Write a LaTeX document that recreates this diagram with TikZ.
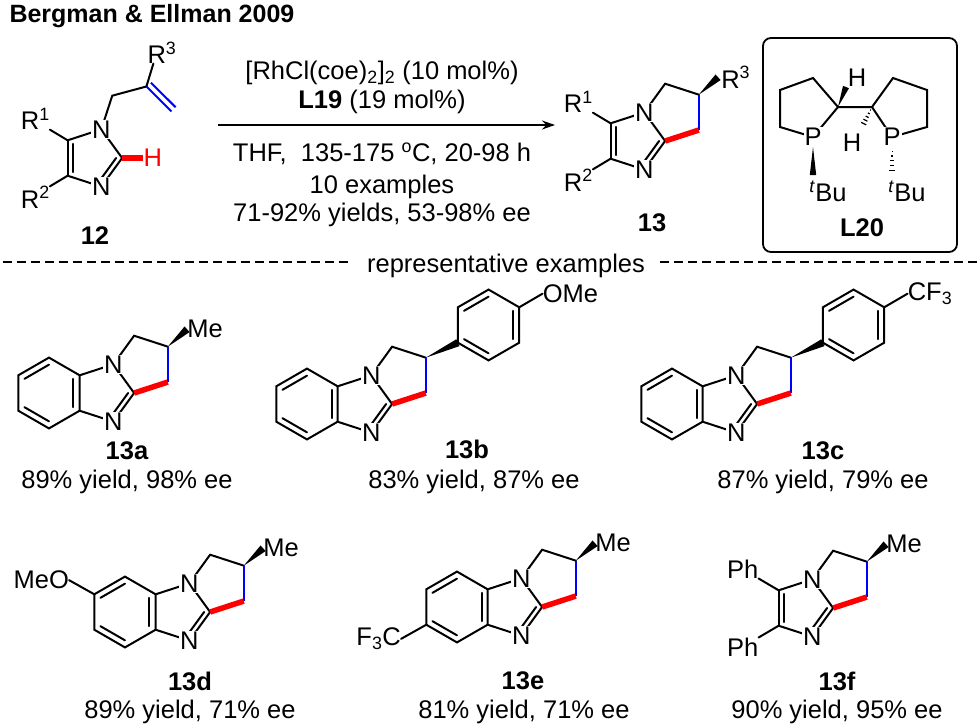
\documentclass[tikz,border=0pt]{standalone}
\usepackage{fontspec}
\setmainfont{Liberation Sans}
\usetikzlibrary{calc,arrows.meta}
\definecolor{rd}{RGB}{255,0,0}
\definecolor{bl}{RGB}{0,0,255}
\newcommand\chemf{\fontsize{25.5}{30}\selectfont}
\tikzset{
 bond/.style={line width=2pt,line cap=round},
 rbond/.style={line width=5.5pt,rd},
 bbond/.style={line width=2pt,bl},
 atom/.style={fill=white,inner sep=1pt,font=\chemf},
 lab/.style={inner sep=0pt,font=\chemf},
 cpd/.style={font=\chemf\bfseries},
 core/.style={yscale=-1,scale=1.18}
}
\newcommand\corecoords{%
 \coordinate (c) at (0,0);
 \coordinate (A) at (-20.65,15); \coordinate (N1) at (7.89,24.27);
 \coordinate (C2) at (25.52,0); \coordinate (N3) at (7.89,-24.27);
 \coordinate (B) at (-20.65,-15);
 \coordinate (P1) at (25.52,48.55); \coordinate (P2) at (54.06,39.28);
 \coordinate (P3) at (54.06,9.28);
 \coordinate (hc) at (-46.63,0);
 \coordinate (H90) at (-46.63,30); \coordinate (H150) at (-72.61,15);
 \coordinate (H210) at (-72.61,-15); \coordinate (H270) at (-46.63,-30);}
\newcommand\dbl[3]{\draw[bond] ($(#1)!0.2!(#3)$) -- ($(#2)!0.2!(#3)$);}
\newcommand\pyrrolo{%
 \draw[bond] (A)--(N1) (N1)--(C2) (N3)--(B) (N1)--(P1)--(P2) (C2)--(N3);
 \dbl{C2}{N3}{c}
 \draw[bbond] (P2)--(P3); \draw[rbond] (P3)--(C2);
 \node[atom] (n1) at (N1) {N}; \node[atom] (n3) at (N3) {N};}
\newcommand\benzo{%
 \draw[bond] (A)--(B)--(H270)--(H210)--(H150)--(H90)--(A);
 \dbl{A}{B}{hc}\dbl{H90}{H150}{hc}\dbl{H210}{H270}{hc}}
\newcommand\imidcc{\draw[bond] (A)--(B); \dbl{A}{B}{c}}
\newcommand\wdg[2]{\fill (#1) -- ($(#2)!3.2pt!90:(#1)$) -- ($(#2)!3.2pt!-90:(#1)$) -- cycle;}
\newcommand\hsh[2]{\foreach \t in {0.15,0.32,0.49,0.66,0.83,1.0}{%
 \pgfmathsetmacro\w{\t*3.4}
 \coordinate (m) at ($(#1)!\t!(#2)$);
 \draw[line width=1.2pt] ($(m)!\w pt!90:(#2)$) -- ($(m)!\w pt!-90:(#2)$);}}
\newcommand\aryl{%
 \coordinate (I) at (81.25,51.96); \coordinate (ac) at (107.23,66.96);
 \coordinate (a150) at (81.25,81.96); \coordinate (a90) at (107.23,96.96);
 \coordinate (a30) at (133.21,81.96); \coordinate (am30) at (133.21,51.96);
 \coordinate (am90) at (107.23,36.96); \coordinate (sub) at (153,93.5);
 \wdg{P2}{I}
 \draw[bond] (I)--(a150)--(a90)--(a30)--(am30)--(am90)--(I) (a30)--(sub);
 \dbl{a150}{a90}{ac}\dbl{a30}{am30}{ac}\dbl{am90}{I}{ac}}
\begin{document}
\begin{tikzpicture}[x=1pt,y=-1pt]
\useasboundingbox (0,0) rectangle (980,724);
\node[anchor=west,font=\fontsize{25}{28}\selectfont\bfseries] (title) at (6,16) {Bergman \& Ellman 2009};
% ---- 12
\begin{scope}[shift={(92,158)},core]
 \corecoords
 \coordinate (Q1) at (17.16,52.8); \coordinate (Q2) at (46.1,60.6);
 \coordinate (Q3) at (52,80); \coordinate (Q4) at (67.3,39.4);
 \draw[bond] (A)--(N1) (N1)--(C2) (C2)--(N3) (N3)--(B) (N1)--(Q1)--(Q2)--(Q3);
 \dbl{C2}{N3}{c}\imidcc
 \draw[bbond] (Q2)--(Q4); \draw[bbond] ($(Q2)+(3.8,3.2)$)--($(Q4)+(3.6,3.6)$);
 \coordinate (r1) at ($(A)+(-15,9)$); \coordinate (r2) at ($(B)+(-15,-9)$);
 \coordinate (hh) at ($(C2)+(18,0)$);
 \draw[bond] (A)--(r1) (B)--(r2);
 \draw[rbond] (C2)--(hh);
 \node[atom] at (N1) {N}; \node[atom] at (N3) {N};
 \node[lab,anchor=south east] at (r1) {R\textsuperscript{1}};
 \node[lab,anchor=north east] at (r2) {R\textsuperscript{2}};
 \node[lab,anchor=west,text=rd] at (hh) {H};
 \node[lab,anchor=south west,xshift=-6pt] at (Q3) {R\textsuperscript{3}};
\end{scope}
\node[cpd] (c12) at (95,236) {12};
% ---- conditions
\draw[line width=1.8pt,-{Stealth[length=13pt,width=9pt]}] (218,125) -- (555,125);
\node[lab] (k1) at (382,73) {[RhCl(coe)\textsubscript{2}]\textsubscript{2} (10 mol\%)};
\node[lab] (k2) at (382,102) {\textbf{L19} (19 mol\%)};
\node[lab] (k3) at (382,154) {THF,\ \ 135-175 \textsuperscript{o}C, 20-98 h};
\node[lab] (k4) at (382,187) {10 examples};
\node[lab] (k5) at (382,215) {71-92\% yields, 53-98\% ee};
% ---- 13
\begin{scope}[shift={(635,141)},core]
 \corecoords \pyrrolo \imidcc
 \coordinate (r1) at ($(A)+(-15,9)$); \coordinate (r2) at ($(B)+(-15,-9)$);
 \coordinate (W) at (70.4,54);
 \draw[bond] (A)--(r1) (B)--(r2);
 \wdg{P2}{W}
 \node[lab,anchor=south east] at (r1) {R\textsuperscript{1}};
 \node[lab,anchor=north east] at (r2) {R\textsuperscript{2}};
 \node[lab,anchor=west,xshift=3pt] at (W) {R\textsuperscript{3}};
\end{scope}
\node[cpd] (c13) at (652,223) {13};
% ---- L20
\draw[line width=1.8pt,rounded corners=8pt] (763,38) rectangle (957,252);
\coordinate (lP) at (813,137); \coordinate (lC2) at (838,107); \coordinate (lC3) at (813,78);
\coordinate (lC4) at (780,90); \coordinate (lC5) at (780,127);
\coordinate (rP) at (892,137); \coordinate (rC2) at (872,107); \coordinate (rC3) at (893,78);
\coordinate (rC4) at (927,90); \coordinate (rC5) at (927,127);
\draw[bond] (lP)--(lC2)--(lC3)--(lC4)--(lC5)--(lP) (lC2)--(rC2);
\draw[bond] (rP)--(rC2)--(rC3)--(rC4)--(rC5)--(rP);
\node[atom] (pl) at (lP) {P}; \node[atom] (pr) at (rP) {P};
\coordinate (hw) at (846,87); \wdg{lC2}{hw}
\node[lab] (h1) at (857,78) {H};
\coordinate (hh2) at (862,127); \hsh{rC2}{hh2}
\node[lab] (h2) at (852,143) {H};
\coordinate (tw) at (813,175); \wdg{pl.south}{tw}
\coordinate (th) at (892,175); \hsh{pr.south}{th}
\node[lab] (tb1) at (828,191) {\textsuperscript{\textit{t}}Bu};
\node[lab] (tb2) at (907,191) {\textsuperscript{\textit{t}}Bu};
\node[cpd] (l20) at (862,228) {L20};
% ---- separator
\draw[line width=1.3pt,dash pattern=on 9pt off 5pt] (3,262) -- (352,262);
\draw[line width=1.3pt,dash pattern=on 9pt off 5pt] (660,262) -- (980,262);
\node[lab] (rep) at (506,266) {representative examples};
% ---- 13a
\begin{scope}[shift={(104,393)},core]
 \corecoords \pyrrolo \benzo
 \coordinate (W) at (70.4,54); \wdg{P2}{W}
 \node[lab,anchor=west] at (W) {Me};
\end{scope}
\node[cpd] at (127,451) {13a};
\node[lab] at (127,482) {89\% yield, 98\% ee};
% ---- 13b
\begin{scope}[shift={(362,404)},core]
 \corecoords \pyrrolo \benzo \aryl
 \node[lab,anchor=west] at (sub) {OMe};
\end{scope}
\node[cpd] at (467,449) {13b};
\node[lab] at (474,482) {83\% yield, 87\% ee};
% ---- 13c
\begin{scope}[shift={(727,404)},core]
 \corecoords \pyrrolo \benzo \aryl
 \node[lab,anchor=west] at (sub) {CF\textsubscript{3}};
\end{scope}
\node[cpd] at (823,451) {13c};
\node[lab] at (823,482) {87\% yield, 79\% ee};
% ---- 13d
\begin{scope}[shift={(180,612)},core]
 \corecoords \pyrrolo \benzo
 \coordinate (W) at (70.4,54); \wdg{P2}{W}
 \node[lab,anchor=west] at (W) {Me};
 \coordinate (o) at (-94,27); \draw[bond] (H150)--(o);
 \node[lab,anchor=east] at (o) {MeO};
\end{scope}
\node[cpd] at (190,681) {13d};
\node[lab] at (190,712) {89\% yield, 71\% ee};
% ---- 13e
\begin{scope}[shift={(512,607)},core]
 \corecoords \pyrrolo \benzo
 \coordinate (W) at (70.4,54); \wdg{P2}{W}
 \node[lab,anchor=west] at (W) {Me};
 \coordinate (f) at (-94,-27); \draw[bond] (H210)--(f);
 \node[lab,anchor=east] at (f) {F\textsubscript{3}C};
\end{scope}
\node[cpd] at (523,681) {13e};
\node[lab] at (524,712) {81\% yield, 71\% ee};
% ---- 13f
\begin{scope}[shift={(803,608)},core]
 \corecoords \pyrrolo \imidcc
 \coordinate (W) at (70.4,54); \wdg{P2}{W}
 \node[lab,anchor=west] at (W) {Me};
 \coordinate (ph1) at ($(A)+(-17,10)$); \coordinate (ph2) at ($(B)+(-17,-10)$);
 \draw[bond] (A)--(ph1) (B)--(ph2);
 \node[lab,anchor=south east] at (ph1) {Ph};
 \node[lab,anchor=north east] at (ph2) {Ph};
\end{scope}
\node[cpd] at (837,681) {13f};
\node[lab] at (837,712) {90\% yield, 95\% ee};
\end{tikzpicture}
\end{document}
